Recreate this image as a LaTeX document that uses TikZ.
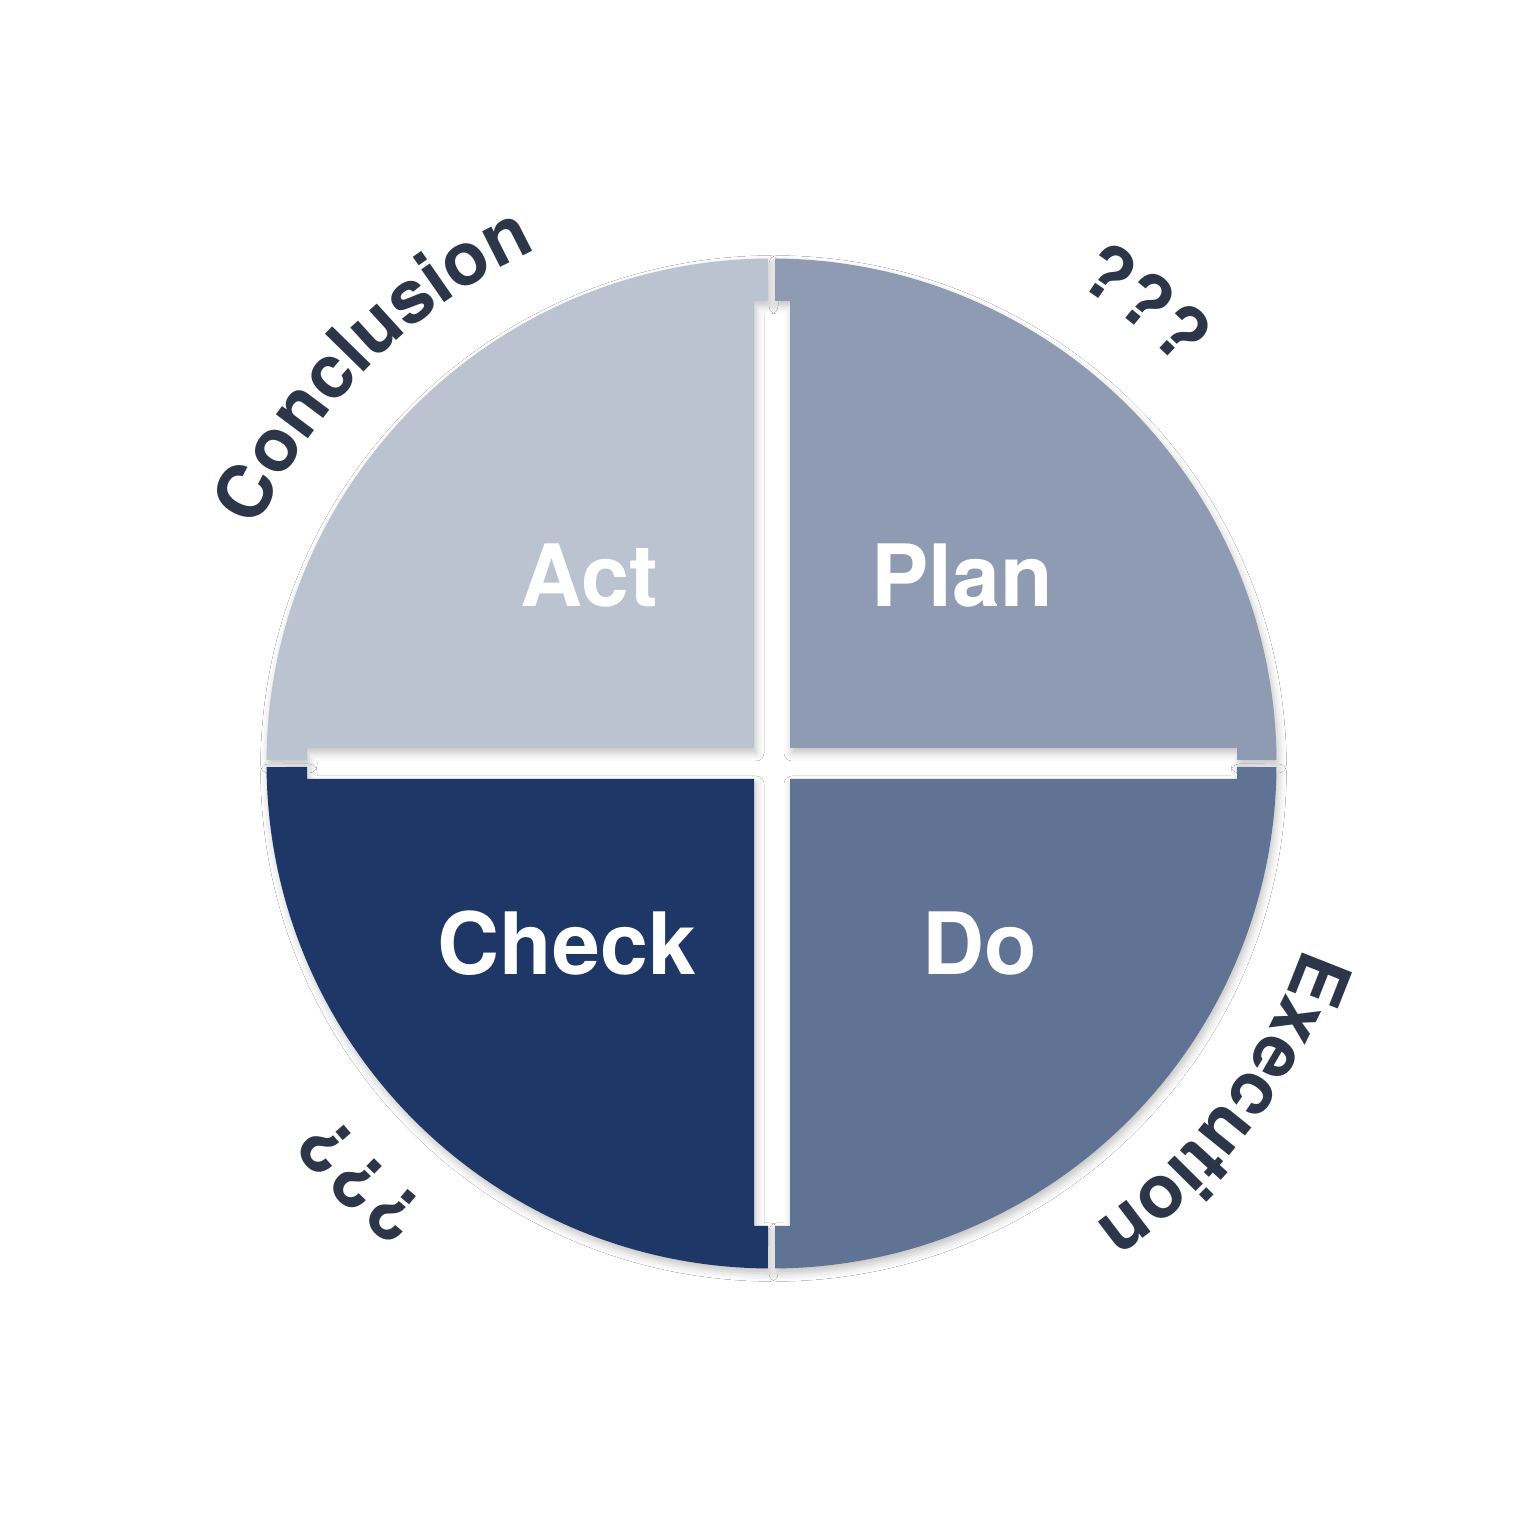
\documentclass[tikz,border=0pt]{standalone}
\usepackage{fontspec}
\setmainfont{TeX Gyre Heros}
\usetikzlibrary{calc,decorations.text,shadows.blur}
\definecolor{actc}{HTML}{BBC2D0}
\definecolor{planc}{HTML}{8F9BB3}
\definecolor{checkc}{HTML}{1F3767}
\definecolor{doc}{HTML}{617394}
\definecolor{txtc}{HTML}{2C3648}
\newcommand\myoutfont{\fontsize{74}{88}\selectfont\bfseries}
\tikzset{
  quad/.style={blur shadow={shadow xshift=2pt, shadow yshift=-5pt, shadow blur radius=8pt, shadow opacity=24}},
  inlabel/.style={text=white, font=\fontsize{86}{100}\selectfont\bfseries, anchor=base, inner sep=0pt},
  outlabel/.style={decorate, decoration={text along path, text align=center, text color=txtc, text={|\myoutfont|#1}}}
}
\begin{document}
\begin{tikzpicture}[x=1pt,y=1pt]
\useasboundingbox (0,0) rectangle (1536,1536);
\fill[white] (0,0) rectangle (1536,1536);
\coordinate (C) at (771.5,772.5);
% Act (top-left)
\fill[actc, quad] (754,1235) -- (768,1235) -- ($(C)+(90.4:505pt)$)
  arc[start angle=90.4, end angle=179.6, radius=505pt]
  -- (307,776) -- (307,788) -- (754,788) -- cycle;
% Plan (top-right)
\fill[planc, quad] (775,1235) -- ($(C)+(89.6:505pt)$)
  arc[start angle=89.6, end angle=0.4, radius=505pt]
  -- (1237,776) -- (1237,788) -- (790,788) -- (790,1235) -- cycle;
% Check (bottom-left)
\fill[checkc, quad] ($(C)+(180.4:505pt)$) -- (307,769) -- (307,757) -- (754,757)
  -- (754,310) -- (768,310) -- ($(C)+(269.6:505pt)$)
  arc[start angle=269.6, end angle=180.4, radius=505pt] -- cycle;
% Do (bottom-right)
\fill[doc, quad] (790,757) -- (1237,757) -- (1237,769) -- ($(C)+(-0.4:505pt)$)
  arc[start angle=-0.4, end angle=-89.6, radius=505pt]
  -- (775,310) -- (790,310) -- cycle;
% inner labels
\node[inlabel] (lact) at (589,929) {Act};
\node[inlabel] (lplan) at (962,929) {Plan};
\node[inlabel] (lcheck) at (567,561) {Check};
\node[inlabel] (ldo) at (980,561) {Do};
% outer labels
\path[outlabel={Conclusion}] ($(C)+(180:565pt)$) arc[start angle=180, end angle=90, radius=565pt];
\path[outlabel={???}] ($(C)+(95.9:569pt)$) arc[start angle=95.9, end angle=5.9, radius=569pt];
\path[outlabel={Execution}] ($(C)+(8:563pt)$) arc[start angle=8, end angle=-82, radius=563pt];
\path[outlabel={???}] ($(C)+(270.4:560pt)$) arc[start angle=270.4, end angle=180.4, radius=560pt];
\end{tikzpicture}
\end{document}
